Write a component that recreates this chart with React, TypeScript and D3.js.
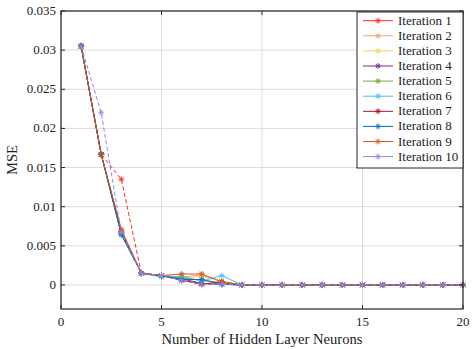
import React from "react";
import * as d3 from "d3";

const xValues = d3.range(1, 21);
const zeros12 = new Array(12).fill(0);
const seriesNames = ["Iteration 1","Iteration 2","Iteration 3","Iteration 4","Iteration 5","Iteration 6","Iteration 7","Iteration 8","Iteration 9","Iteration 10"];
const it1 = [0.0305, 0.0167, 0.0135, 0.0015, 0.0012, 0.0006, 0.0001, 0.0001, ...zeros12];
const it2 = [0.0305, 0.0167, 0.0070, 0.0015, 0.0012, 0.0010, 0.0013, 0.0004, ...zeros12];
const it3 = [0.0305, 0.0167, 0.0068, 0.0015, 0.0012, 0.0009, 0.0011, 0.0005, ...zeros12];
const it4 = [0.0306, 0.0167, 0.0066, 0.0015, 0.0012, 0.0008, 0.0002, 0.0001, ...zeros12];
const it5 = [0.0305, 0.0167, 0.0067, 0.0015, 0.0011, 0.0009, 0.0006, 0.0003, ...zeros12];
const it6 = [0.0305, 0.0167, 0.0065, 0.0015, 0.0010, 0.0011, 0.0005, 0.0012, ...zeros12];
const it7 = [0.0305, 0.0167, 0.0068, 0.0015, 0.0012, 0.0006, 0.0001, 0.0004, ...zeros12];
const it8 = [0.0305, 0.0167, 0.0064, 0.0015, 0.0012, 0.0007, 0.0007, 0.0001, ...zeros12];
const it9 = [0.0305, 0.0167, 0.0071, 0.0015, 0.0012, 0.0014, 0.0014, 0.0004, ...zeros12];
const it10 = [0.0305, 0.0220, 0.0067, 0.0015, 0.0012, 0.0006, 0.0001, 0.0001, ...zeros12];
const seriesValues = [it1, it2, it3, it4, it5, it6, it7, it8, it9, it10];
const seriesColors = ["#ff2a2a", "#f2a27a", "#f7cf6a", "#7e2f8e", "#77ac30", "#4dbeee", "#a2142f", "#0072bd", "#d95319", "#8a8aee"];
const seriesDashed = [true, false, false, false, false, false, false, false, false, true];
const xTicks = [0, 5, 10, 15, 20];
const yTicks = [0, 0.005, 0.01, 0.015, 0.02, 0.025, 0.03, 0.035];
const yTickLabels = ["0", "0.005", "0.01", "0.015", "0.02", "0.025", "0.03", "0.035"];

const W = 474, H = 349;
const L = 61, R = 463, T = 11, B = 309;
const FONT = "Liberation Serif, DejaVu Serif, serif";

function Star({ x, y, color }: { x: number; y: number; color: string }) {
  const s = 3;
  const d = s * 0.72;
  return (
    <g stroke={color} strokeWidth={0.9}>
      <line x1={x - s} y1={y} x2={x + s} y2={y} />
      <line x1={x} y1={y - s} x2={x} y2={y + s} />
      <line x1={x - d} y1={y - d} x2={x + d} y2={y + d} />
      <line x1={x - d} y1={y + d} x2={x + d} y2={y - d} />
    </g>
  );
}

export default function App() {
  const x = d3.scaleLinear().domain([0, 20]).range([L, R]);
  const y = d3.scaleLinear().domain([-0.00307, 0.035]).range([B, T]);
  const line = d3.line<number>().x((_, i) => x(xValues[i])).y((v) => y(v));
  const legX = 357, legY = 12, legW = 106, rowH = 15.1;
  return (
    <svg width={W} height={H} style={{ position: "absolute", left: 0, top: 0, fontFamily: FONT }}>
      <rect x={0} y={0} width={W} height={H} fill="#fff" />
      {xTicks.map((t) => (
        <line key={"gx" + t} x1={x(t)} x2={x(t)} y1={T} y2={B} stroke="#dcdcdc" strokeWidth={1} />
      ))}
      {yTicks.map((t) => (
        <line key={"gy" + t} x1={L} x2={R} y1={y(t)} y2={y(t)} stroke="#dcdcdc" strokeWidth={1} />
      ))}
      {seriesValues.map((vals, si) => (
        <g key={"s" + si}>
          <path d={line(vals) || ""} fill="none" stroke={seriesColors[si]} strokeWidth={1}
            strokeDasharray={seriesDashed[si] ? "4,2.5" : undefined} />
          {vals.map((v, i) => (
            <Star key={i} x={x(xValues[i])} y={y(v)} color={seriesColors[si]} />
          ))}
        </g>
      ))}
      <rect x={L} y={T} width={R - L} height={B - T} fill="none" stroke="#262626" strokeWidth={1.2} />
      {xTicks.map((t) => (
        <g key={"tx" + t}>
          <line x1={x(t)} x2={x(t)} y1={B} y2={B - 4} stroke="#262626" />
          <line x1={x(t)} x2={x(t)} y1={T} y2={T + 4} stroke="#262626" />
          <text x={x(t)} y={326} textAnchor="middle" fontSize={13} fill="#222" style={{ fontFamily: FONT }}>{t}</text>
        </g>
      ))}
      {yTicks.map((t, i) => (
        <g key={"ty" + t}>
          <line x1={L} x2={L + 4} y1={y(t)} y2={y(t)} stroke="#262626" />
          <line x1={R} x2={R - 4} y1={y(t)} y2={y(t)} stroke="#262626" />
          <text x={56} y={y(t) + 4} textAnchor="end" fontSize={13} fill="#222" style={{ fontFamily: FONT }}>{yTickLabels[i]}</text>
        </g>
      ))}
      <text x={(L + R) / 2} y={344} textAnchor="middle" fontSize={14.6} fill="#222" style={{ fontFamily: FONT }}>Number of Hidden Layer Neurons</text>
      <text transform={`translate(17,${(T + B) / 2}) rotate(-90)`} textAnchor="middle" fontSize={14.6} fill="#222" style={{ fontFamily: FONT }}>MSE</text>
      <rect x={legX} y={legY} width={legW} height={10 * rowH + 5} fill="#fff" stroke="#262626" strokeWidth={1} />
      {seriesNames.map((n, i) => {
        const cy = legY + 8.7 + i * rowH;
        return (
          <g key={"lg" + i}>
            <line x1={363} x2={393} y1={cy} y2={cy} stroke={seriesColors[i]} strokeWidth={1} />
            <Star x={378} y={cy} color={seriesColors[i]} />
            <text x={398} y={cy + 4} fontSize={13} fill="#222" style={{ fontFamily: FONT }}>{n}</text>
          </g>
        );
      })}
    </svg>
  );
}
